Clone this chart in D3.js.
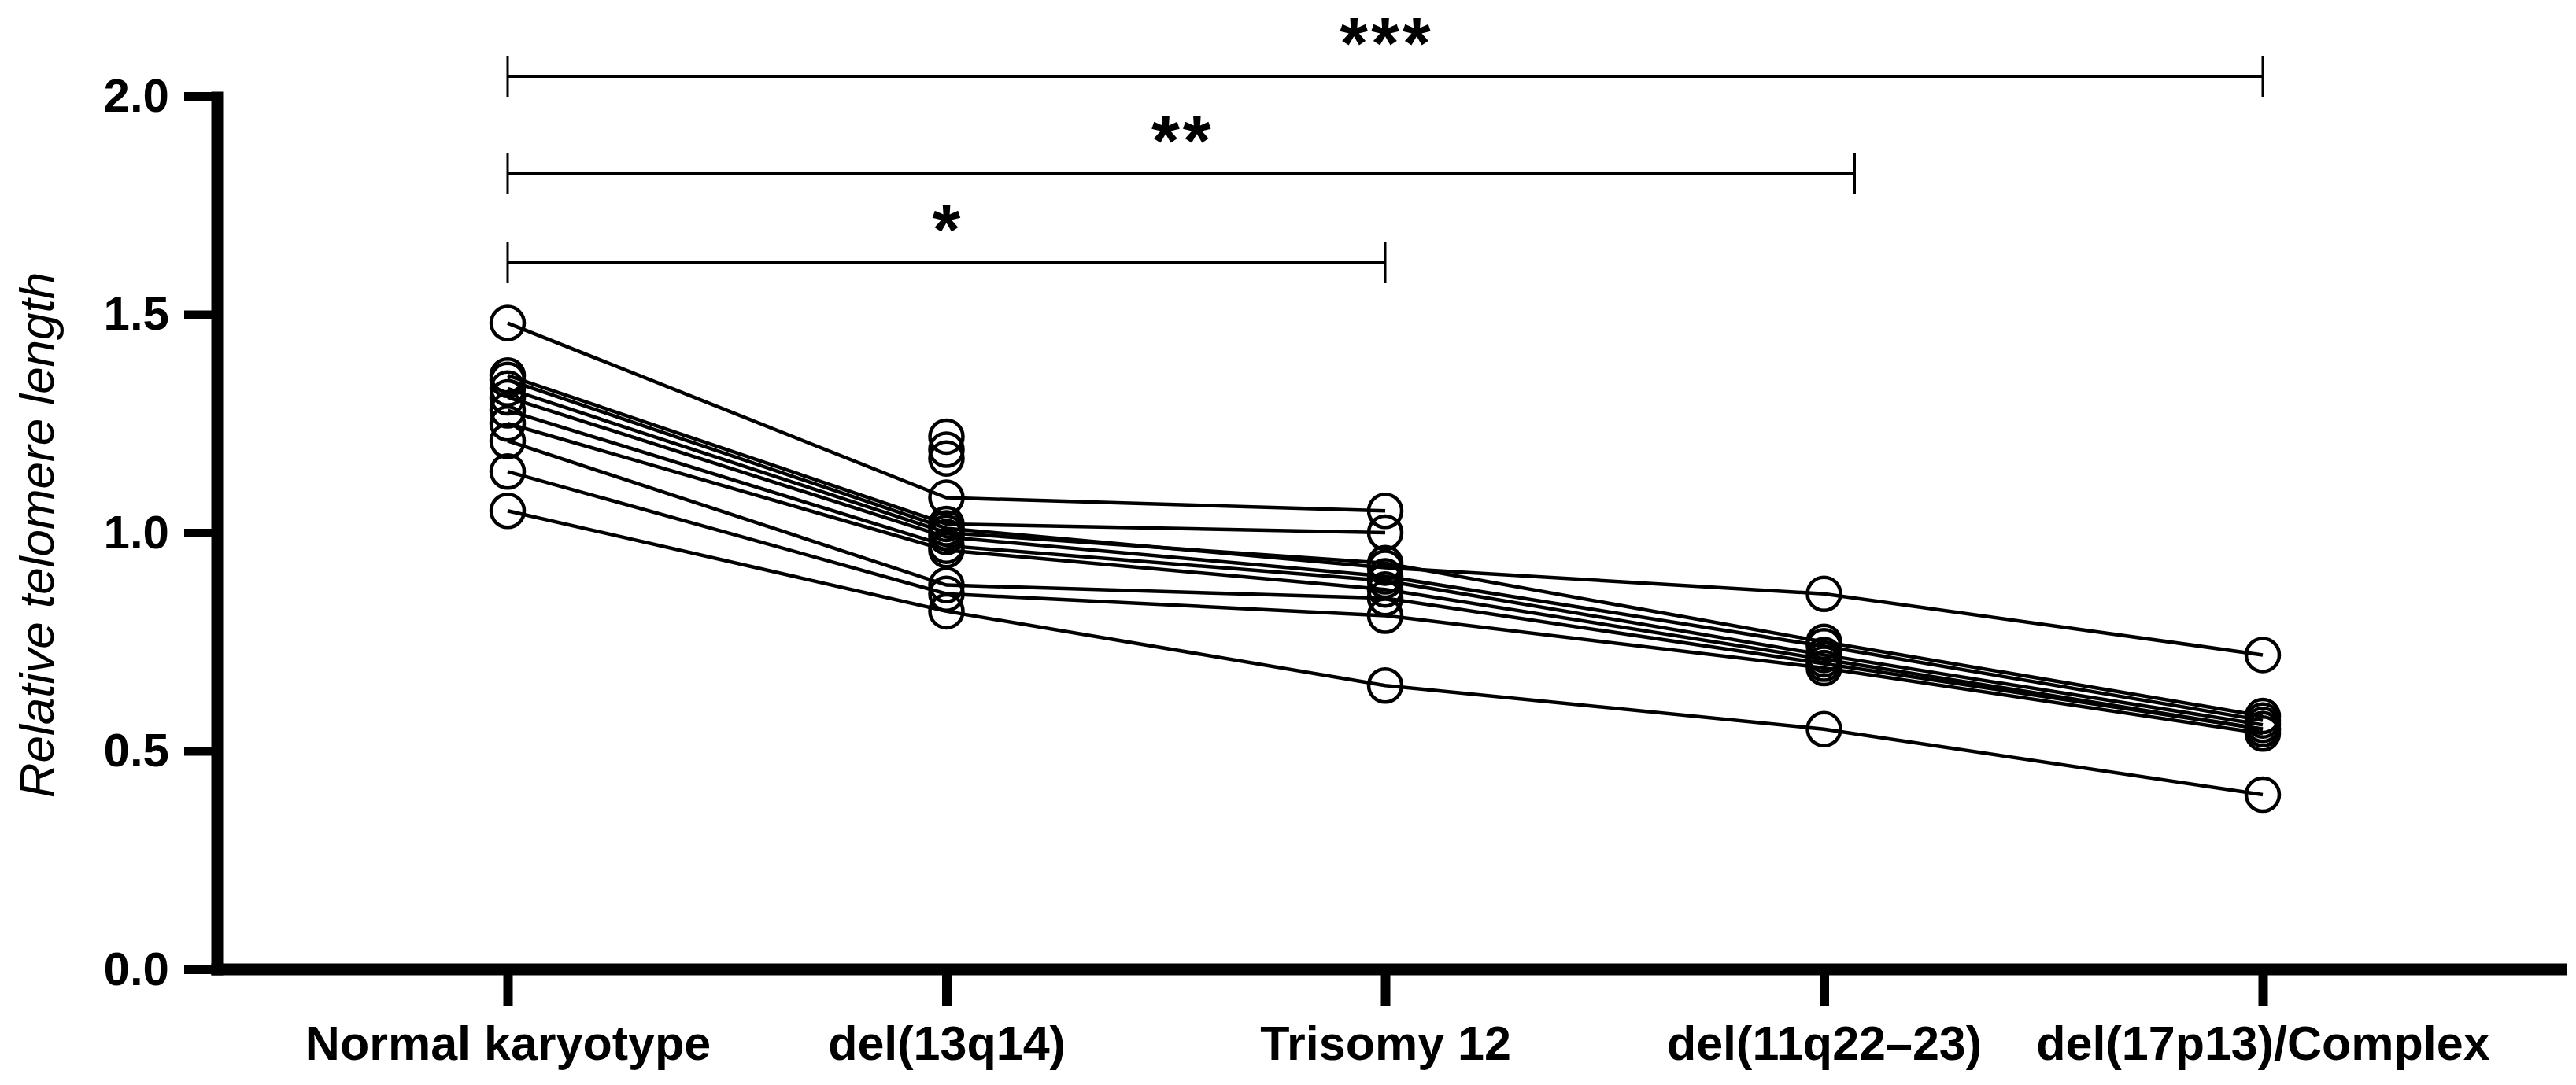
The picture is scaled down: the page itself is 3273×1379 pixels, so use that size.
<!DOCTYPE html>
<html>
<head>
<meta charset="utf-8">
<script src="https://cdn.jsdelivr.net/npm/d3@7/dist/d3.min.js"></script>
<style>
  html, body { margin: 0; padding: 0; background: #ffffff; }
  svg { display: block; }
</style>
</head>
<body>
<svg id="chart" width="3273" height="1379"></svg>
<script>
// ---------------- data ----------------
const categories = ["Normal karyotype", "del(13q14)", "Trisomy 12", "del(11q22–23)", "del(17p13)/Complex"];
const yTicks = [0.0, 0.5, 1.0, 1.5, 2.0];
const yTitle = "Relative telomere length";

// paired trajectories (null = not observed at that karyotype)
const series1  = [1.48, 1.08, 1.05, null, null];
const series2  = [1.36, 1.02, 1.00, null, null];
const series3  = [1.35, 1.01, 0.92, 0.86, 0.72];
const series4  = [1.33, 1.00, 0.93, 0.75, 0.58];
const series5  = [1.31, 0.99, 0.90, 0.74, 0.57];
const series6  = [1.28, 0.97, 0.89, 0.72, 0.56];
const series7  = [1.25, 0.96, 0.87, 0.71, 0.55];
const series8  = [1.21, 0.88, 0.85, 0.70, 0.55];
const series9  = [1.14, 0.86, 0.81, 0.69, 0.54];
const series10 = [1.05, 0.82, 0.65, 0.55, 0.40];
// unpaired observations
const singleCategory = ["del(13q14)", "del(13q14)", "del(13q14)"];
const singleValues   = [1.22, 1.19, 1.17];

// significance brackets (from category index to category index), level on y scale
const bracketFrom  = [0, 0, 0];
const bracketTo    = [2, 3.07, 4];
const bracketLevel = [1.618, 1.822, 2.045];
const bracketLabel = ["*", "**", "***"];

const allSeries = [series1, series2, series3, series4, series5, series6, series7, series8, series9, series10];

// ---------------- layout ----------------
const svg = d3.select("#chart");
svg.append("rect").attr("width", 3273).attr("height", 1379).attr("fill", "#fff");

const axisX = 276;          // y-axis line position
const xRight = 3262;        // end of x axis
const y = d3.scaleLinear().domain([0, 2]).range([1232, 122]);
const x = d3.scalePoint().domain(categories).range([645, 2875]);
const xi = d3.scaleLinear().domain([0, categories.length - 1]).range([645, 2875]);

const FONT = "'Liberation Sans', Arial, Helvetica, sans-serif";

// ---------------- axes ----------------
const yAxis = d3.axisLeft(y).tickValues(yTicks).tickFormat(d3.format(".1f"))
  .tickSize(42).tickPadding(19).tickSizeOuter(0);
const gy = svg.append("g").attr("transform", `translate(${axisX},0)`).call(yAxis);
gy.select(".domain").remove();
gy.selectAll(".tick line").attr("stroke", "#000").attr("stroke-width", 11);
gy.selectAll(".tick text").attr("fill", "#000")
  .style("font-family", FONT).style("font-weight", "bold").style("font-size", "60px");

const xAxis = d3.axisBottom(x).tickSize(46).tickPadding(26).tickSizeOuter(0);
const gx = svg.append("g").attr("transform", `translate(0,${y(0)})`).call(xAxis);
gx.select(".domain").remove();
gx.selectAll(".tick line").attr("stroke", "#000").attr("stroke-width", 12);
gx.selectAll(".tick text").attr("fill", "#000")
  .style("font-family", FONT).style("font-weight", "bold").style("font-size", "61px");

// axis lines
svg.append("line").attr("x1", axisX).attr("x2", axisX)
  .attr("y1", y(2) - 5.5).attr("y2", y(0) + 7.5)
  .attr("stroke", "#000").attr("stroke-width", 15);
svg.append("line").attr("x1", axisX - 7.5).attr("x2", xRight)
  .attr("y1", y(0)).attr("y2", y(0))
  .attr("stroke", "#000").attr("stroke-width", 15);

// y title
svg.append("text")
  .attr("transform", `translate(46,${680}) rotate(-90)`)
  .attr("text-anchor", "middle").attr("dominant-baseline", "central")
  .style("font-family", FONT).style("font-style", "italic").style("font-size", "62px")
  .attr("fill", "#000").text(yTitle);

// ---------------- data marks ----------------
const line = d3.line()
  .defined(d => d.v !== null)
  .x(d => x(d.c)).y(d => y(d.v));

const gData = svg.append("g");
allSeries.forEach(s => {
  const pts = s.map((v, i) => ({ c: categories[i], v }));
  gData.append("path").datum(pts).attr("d", line)
    .attr("fill", "none").attr("stroke", "#000").attr("stroke-width", 4.5);
});
allSeries.forEach(s => {
  s.forEach((v, i) => {
    if (v === null) return;
    gData.append("circle").attr("cx", x(categories[i])).attr("cy", y(v)).attr("r", 21)
      .attr("fill", "none").attr("stroke", "#000").attr("stroke-width", 4.5);
  });
});
singleValues.forEach((v, i) => {
  gData.append("circle").attr("cx", x(singleCategory[i])).attr("cy", y(v)).attr("r", 21)
    .attr("fill", "none").attr("stroke", "#000").attr("stroke-width", 4.5);
});

// ---------------- significance brackets ----------------
const gB = svg.append("g");
bracketLevel.forEach((lv, i) => {
  const x1 = xi(bracketFrom[i]), x2 = xi(bracketTo[i]), yy = y(lv);
  gB.append("line").attr("x1", x1).attr("x2", x2).attr("y1", yy).attr("y2", yy)
    .attr("stroke", "#000").attr("stroke-width", 4);
  [x1, x2].forEach(xx => {
    gB.append("line").attr("x1", xx).attr("x2", xx).attr("y1", yy - 26).attr("y2", yy + 26)
      .attr("stroke", "#000").attr("stroke-width", 3);
  });
  gB.append("text").attr("x", (x1 + x2) / 2 + 2).attr("y", yy - 10)
    .attr("text-anchor", "middle")
    .style("font-family", FONT).style("font-weight", "bold").style("font-size", "92px")
    .style("letter-spacing", "4px")
    .attr("fill", "#000").text(bracketLabel[i]);
});
</script>
</body>
</html>
